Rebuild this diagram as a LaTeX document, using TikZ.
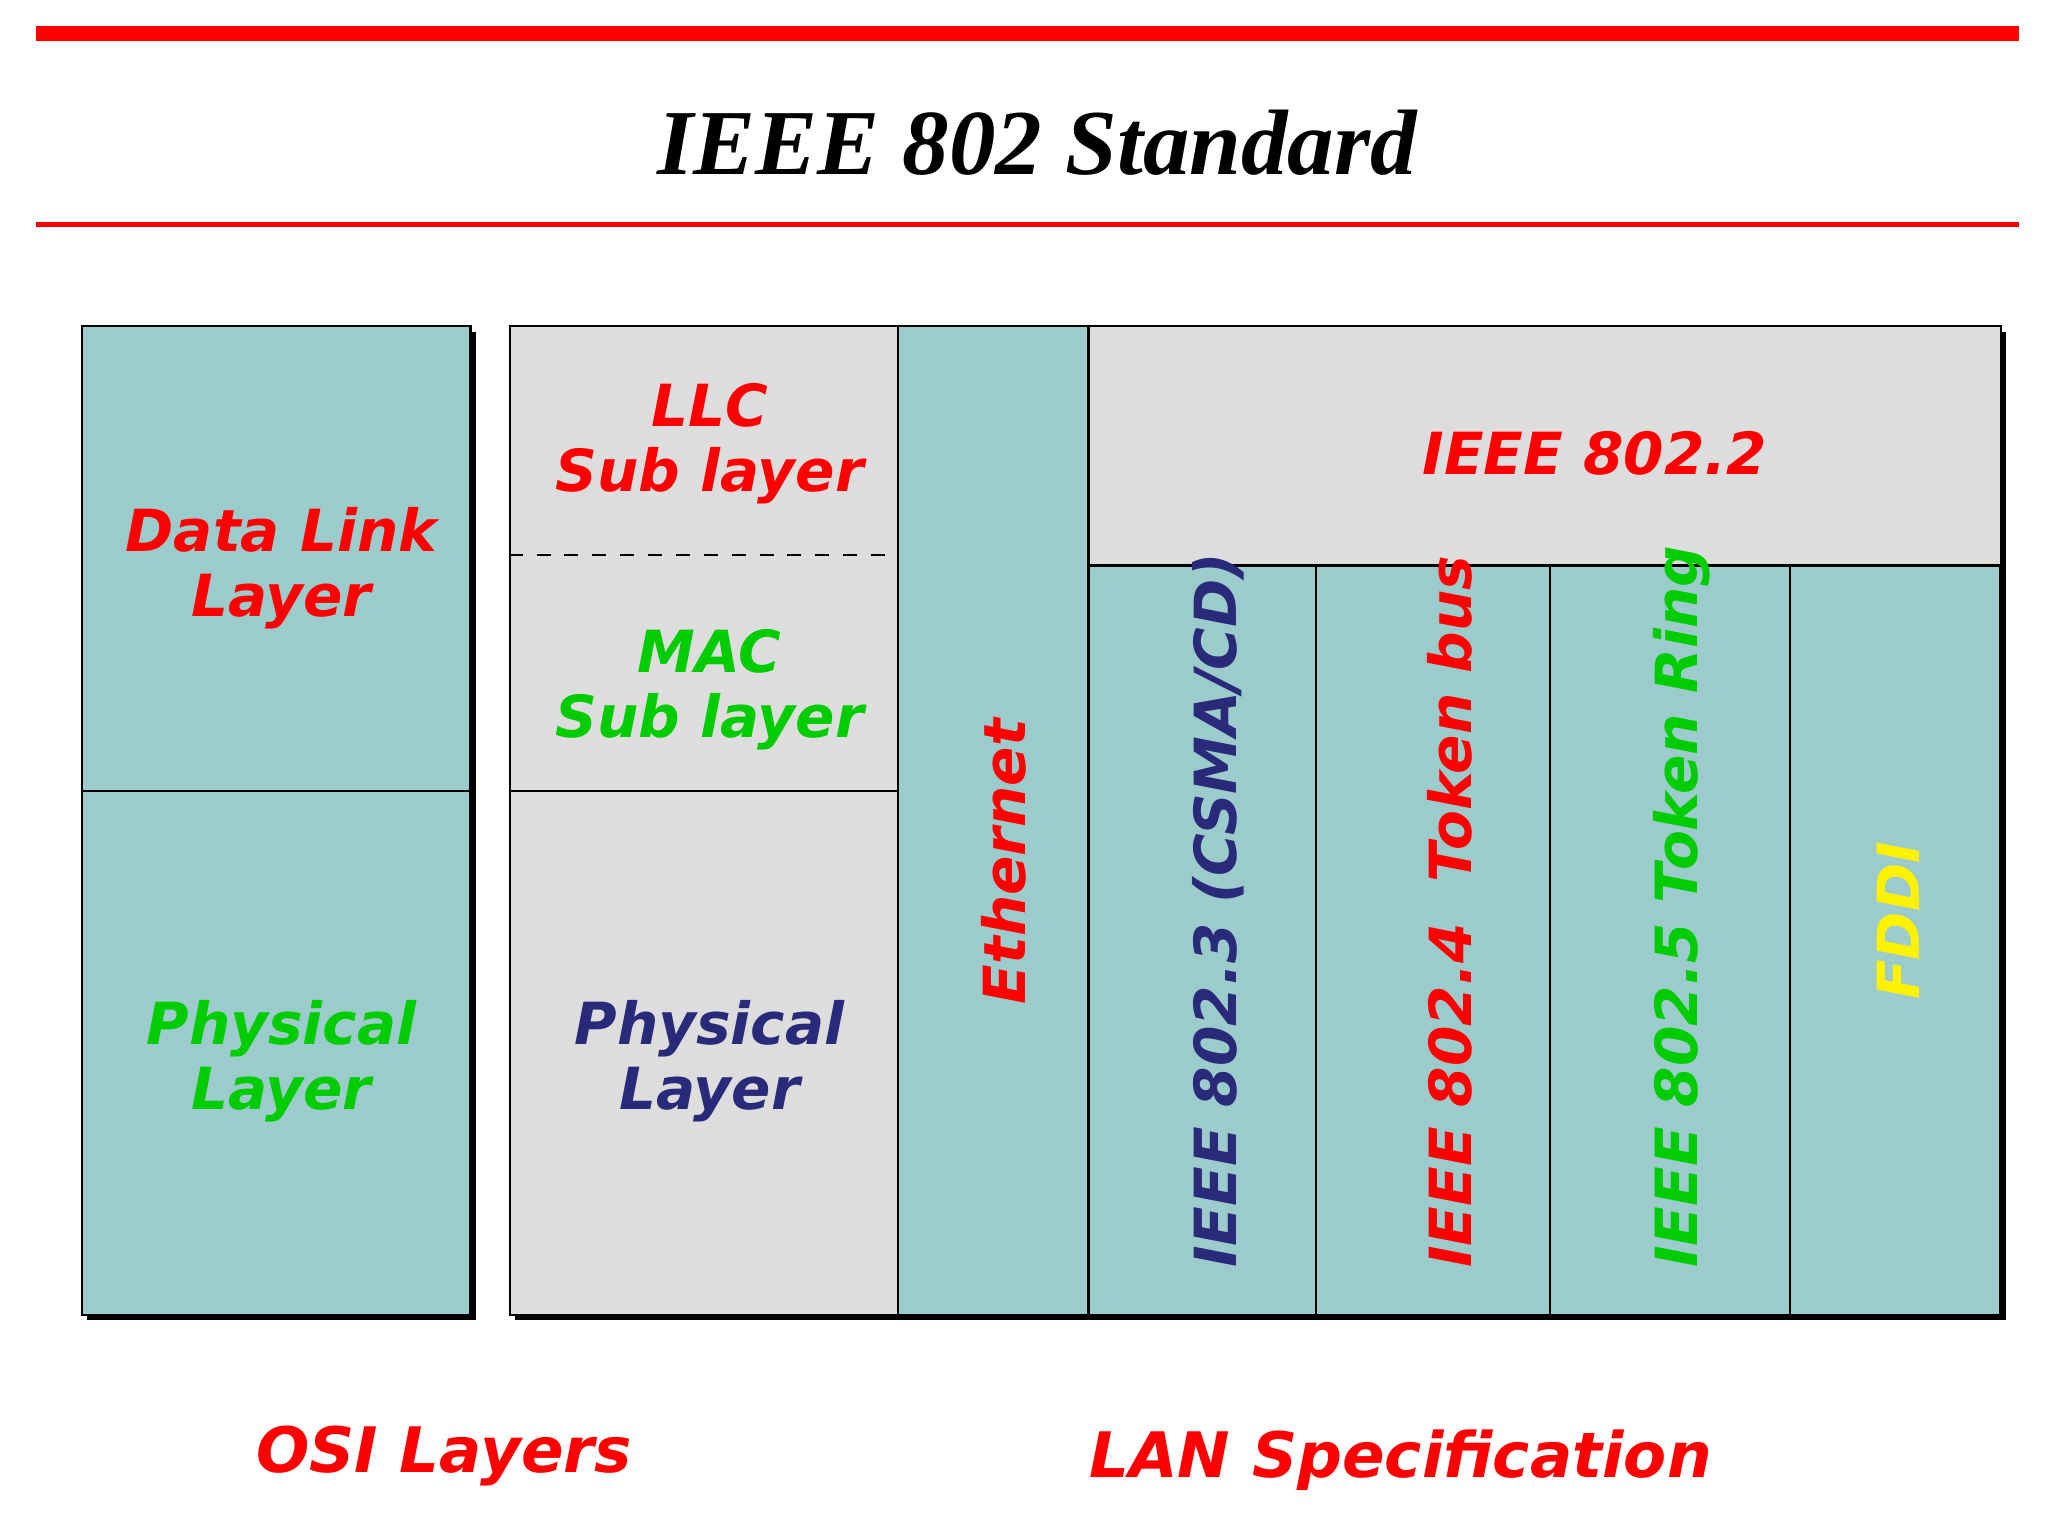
\documentclass[tikz,border=0pt]{standalone}
\usepackage{fontspec}
\setmainfont{DejaVu Sans}
\newfontfamily\titlefont{Liberation Serif}
\begin{document}
\begin{tikzpicture}[x=0.01cm,y=-0.01cm,
  cell/.style={draw=black,line width=0.5pt,anchor=north west,inner sep=0pt},
  teal/.style={cell,fill=tealc},
  grey/.style={cell,fill=greyc},
  lbl/.style={font=\fontsize{12.5}{14}\selectfont\bfseries\itshape,align=center},
  vlbl/.style={lbl,rotate=90,anchor=west}]
\definecolor{tealc}{HTML}{9CCBCC}
\definecolor{greyc}{HTML}{DDDDDD}
\definecolor{navy}{HTML}{2A2A7A}
\definecolor{grn}{HTML}{00CC00}
\useasboundingbox[fill=white] (0,0) rectangle (1550,1162);
\fill[red] (27,20) rectangle (1528,31);
\draw[red,line width=1.2pt] (27,170) -- (1528,170);
\node[font=\titlefont\fontsize{20}{20}\selectfont\bfseries\itshape] (title) at (785,108) {IEEE 802 Standard};
% shadows
\fill[black] (66,251) rectangle (360,999);
\fill[black] (390,251) rectangle (1518,999);
% left boxes
\node[teal,minimum width=2.94cm,minimum height=3.52cm] (dll) at (61,246) {};
\node[teal,minimum width=2.94cm,minimum height=3.96cm] (phy) at (61,598) {};
% right
\node[grey,minimum width=2.94cm,minimum height=3.52cm] (mac) at (385,246) {};
\node[grey,minimum width=2.94cm,minimum height=3.96cm] (phy2) at (385,598) {};
\draw[dashed,line width=0.5pt] (385,420) -- (679,420);
\node[teal,minimum width=1.44cm,minimum height=7.48cm] (eth) at (679,246) {};
\node[grey,minimum width=6.90cm,minimum height=1.81cm] (i8022) at (823,246) {};
\node[teal,minimum width=1.72cm,minimum height=5.67cm] (c3) at (823,427) {};
\node[teal,minimum width=1.77cm,minimum height=5.67cm] (c4) at (995,427) {};
\node[teal,minimum width=1.82cm,minimum height=5.67cm] (c5) at (1172,427) {};
\node[teal,minimum width=1.59cm,minimum height=5.67cm] (c6) at (1354,427) {};
% labels
\node[lbl,red] (t1) at (213,430) {Data Link\\Layer};
\node[lbl,grn] (t2) at (213,803) {Physical\\Layer};
\node[lbl,red] (t3) at (537,336) {LLC\\Sub layer};
\node[lbl,grn] (t4) at (537,522) {MAC\\Sub layer};
\node[lbl,navy] (t5) at (537,803) {Physical\\Layer};
\node[lbl,red,rotate=90] (t6) at (760,652) {Ethernet};
\node[lbl,red] (t7) at (1207,343) {IEEE 802.2};
\node[vlbl,navy] (t8) at (922,972) {IEEE 802.3 (CSMA/CD)};
\node[vlbl,red] (t9) at (1097,972) {IEEE 802.4\ \ Token bus};
\node[vlbl,grn] (t10) at (1273,972) {IEEE 802.5 Token Ring};
\node[lbl,yellow,rotate=90] (t11) at (1437,697) {FDDI};
\node[lbl,red,font=\fontsize{13.5}{15}\selectfont\bfseries\itshape] (osi) at (336,1102) {OSI Layers};
\node[lbl,red,font=\fontsize{13.5}{15}\selectfont\bfseries\itshape] (lan) at (1060,1105) {LAN Specification};
\end{tikzpicture}
\end{document}
